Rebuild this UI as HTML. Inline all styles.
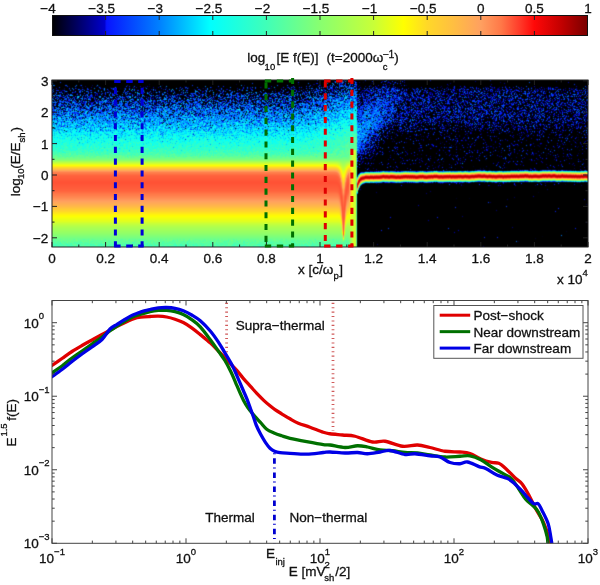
<!DOCTYPE html>
<html><head><meta charset="utf-8"><style>
html,body{margin:0;padding:0;background:#fff;}
body{width:600px;height:585px;position:relative;overflow:hidden;font-family:"Liberation Sans",sans-serif;}
#cb{position:absolute;left:52px;top:15.5px;width:536px;height:20px;background:linear-gradient(to right,#000000 0.00%,#0000cc 9.80%,#0814ff 10.20%,#0080ff 20.00%,#00ffff 29.40%,#40ffb8 40.00%,#88ff70 50.00%,#c8ff38 60.00%,#ffff00 65.60%,#ffd828 70.00%,#ffc040 74.60%,#ffa060 80.00%,#ff7848 83.80%,#ff3828 87.40%,#ff0808 90.00%,#c00000 95.20%,#780000 100.00%);}
#hm{position:absolute;left:52px;top:80px;width:536px;height:167px;background:linear-gradient(to bottom,#000 0px,#000 6.5px,#000734 8.5px,#01094c 10.5px,#010e53 14.5px,#011159 16.5px,#01105d 20.5px,#000e54 26.5px,#010f5d 30.5px,#011160 36.5px,#010d4f 40.5px,#00083f 44.5px,#000535 48.5px,#00021d 52.5px,#000114 56.5px,#000215 66.5px,#00010d 76.5px,#000008 88.5px,#084fb1 90.5px,#a9f55c 92.5px,#fa6432 94.5px,#d80605 96.5px,#fb963e 98.5px,#76f286 100.5px,#002154 102.5px,#00010b 104.5px,#000 106.5px,#000 167px) 305.5px 0/230.5px 167px no-repeat,linear-gradient(to bottom,#000 0px,#000001 3.5px,#000411 6.5px,#000b2d 9.5px,#001241 12.5px,#001e60 15.5px,#012371 18.5px,#012d92 21.5px,#013391 24.5px,#0149a9 27.5px,#0153c5 30.5px,#0160cc 33.5px,#0176dc 36.5px,#018deb 39.5px,#0199f0 42.5px,#02aaf4 45.5px,#04c3f3 48.5px,#05cff6 51.5px,#0ae5f3 54.5px,#10f1ec 57.5px,#16f9e6 60.5px,#1dfcdd 63.5px,#26fed4 66.5px,#2ffeca 69.5px,#3fffb9 72.5px,#53ffa4 75.5px,#71ff86 78.5px,#8eff6b 80.5px,#cfff31 83.5px,#feea16 86.5px,#ffb848 89.5px,#ff814d 92.5px,#ff653e 95.5px,#ff5b3a 98.5px,#ff5336 101.5px,#ff5537 104.5px,#ff5b3a 107.5px,#ff623d 110.5px,#ff7446 113.5px,#ff844f 116.5px,#ff955a 119.5px,#ffa65a 122.5px,#ffb44c 125.5px,#ffc63a 128.5px,#ffd828 131.5px,#fff20e 134.5px,#f5ff0b 137.5px,#e3ff1c 140.5px,#c9ff37 143.5px,#b2ff4b 146.5px,#a3ff59 149.5px,#95ff65 152.5px,#84ff74 155.5px,#71ff86 158.5px,#5fff98 161.5px,#4ff8a3 167px) 0 0/305.5px 167px no-repeat;}
svg{position:absolute;left:0;top:0;}
text{font-family:"Liberation Sans",sans-serif;fill:#111;stroke:#111;stroke-width:0.3px;}
</style></head><body>
<div id="cb"></div>
<canvas id="hm" width="536" height="167"></canvas>
<svg width="600" height="585" viewBox="0 0 600 585">
<text x="48.06" y="12.70" font-size="13.5" text-anchor="middle" >−4</text>
<line x1="105.60" y1="15.50" x2="105.60" y2="20.00" stroke="#222" stroke-width="1" />
<line x1="105.60" y1="31.00" x2="105.60" y2="35.50" stroke="#222" stroke-width="1" />
<text x="101.66" y="12.70" font-size="13.5" text-anchor="middle" >−3.5</text>
<line x1="159.20" y1="15.50" x2="159.20" y2="20.00" stroke="#222" stroke-width="1" />
<line x1="159.20" y1="31.00" x2="159.20" y2="35.50" stroke="#222" stroke-width="1" />
<text x="155.26" y="12.70" font-size="13.5" text-anchor="middle" >−3</text>
<line x1="212.80" y1="15.50" x2="212.80" y2="20.00" stroke="#222" stroke-width="1" />
<line x1="212.80" y1="31.00" x2="212.80" y2="35.50" stroke="#222" stroke-width="1" />
<text x="208.86" y="12.70" font-size="13.5" text-anchor="middle" >−2.5</text>
<line x1="266.40" y1="15.50" x2="266.40" y2="20.00" stroke="#222" stroke-width="1" />
<line x1="266.40" y1="31.00" x2="266.40" y2="35.50" stroke="#222" stroke-width="1" />
<text x="262.46" y="12.70" font-size="13.5" text-anchor="middle" >−2</text>
<line x1="320.00" y1="15.50" x2="320.00" y2="20.00" stroke="#222" stroke-width="1" />
<line x1="320.00" y1="31.00" x2="320.00" y2="35.50" stroke="#222" stroke-width="1" />
<text x="316.06" y="12.70" font-size="13.5" text-anchor="middle" >−1.5</text>
<line x1="373.60" y1="15.50" x2="373.60" y2="20.00" stroke="#222" stroke-width="1" />
<line x1="373.60" y1="31.00" x2="373.60" y2="35.50" stroke="#222" stroke-width="1" />
<text x="369.66" y="12.70" font-size="13.5" text-anchor="middle" >−1</text>
<line x1="427.20" y1="15.50" x2="427.20" y2="20.00" stroke="#222" stroke-width="1" />
<line x1="427.20" y1="31.00" x2="427.20" y2="35.50" stroke="#222" stroke-width="1" />
<text x="423.26" y="12.70" font-size="13.5" text-anchor="middle" >−0.5</text>
<line x1="480.80" y1="15.50" x2="480.80" y2="20.00" stroke="#222" stroke-width="1" />
<line x1="480.80" y1="31.00" x2="480.80" y2="35.50" stroke="#222" stroke-width="1" />
<text x="480.80" y="12.70" font-size="13.5" text-anchor="middle" >0</text>
<line x1="534.40" y1="15.50" x2="534.40" y2="20.00" stroke="#222" stroke-width="1" />
<line x1="534.40" y1="31.00" x2="534.40" y2="35.50" stroke="#222" stroke-width="1" />
<text x="534.40" y="12.70" font-size="13.5" text-anchor="middle" >0.5</text>
<text x="588.00" y="12.70" font-size="13.5" text-anchor="middle" >1</text>
<rect x="52.5" y="15.5" width="535" height="20.0" fill="none" stroke="#111" stroke-width="1"/>
<text x="247.20" y="62.30" font-size="13.5" text-anchor="start" >log</text>
<text x="264.60" y="70.20" font-size="9.5" text-anchor="start" >10</text>
<text x="276.60" y="62.30" font-size="13.5" text-anchor="start" >[E f(E)]</text>
<text x="326.60" y="62.30" font-size="13.5" text-anchor="start" >(t=2000ω</text>
<text x="382.40" y="57.80" font-size="10.5" text-anchor="start" >−1</text>
<text x="382.80" y="70.20" font-size="9.5" text-anchor="start" >c</text>
<text x="394.30" y="62.30" font-size="13.5" text-anchor="start" >)</text>
<line x1="52.00" y1="237.80" x2="57.00" y2="237.80" stroke="#222" stroke-width="1" />
<line x1="588.00" y1="237.80" x2="583.00" y2="237.80" stroke="#222" stroke-width="1" />
<text x="48.40" y="242.70" font-size="13.5" text-anchor="end" >−2</text>
<line x1="52.00" y1="222.10" x2="54.50" y2="222.10" stroke="#222" stroke-width="1" />
<line x1="588.00" y1="222.10" x2="585.50" y2="222.10" stroke="#222" stroke-width="1" />
<line x1="52.00" y1="206.40" x2="57.00" y2="206.40" stroke="#222" stroke-width="1" />
<line x1="588.00" y1="206.40" x2="583.00" y2="206.40" stroke="#222" stroke-width="1" />
<text x="48.40" y="211.30" font-size="13.5" text-anchor="end" >−1</text>
<line x1="52.00" y1="190.70" x2="54.50" y2="190.70" stroke="#222" stroke-width="1" />
<line x1="588.00" y1="190.70" x2="585.50" y2="190.70" stroke="#222" stroke-width="1" />
<line x1="52.00" y1="175.00" x2="57.00" y2="175.00" stroke="#222" stroke-width="1" />
<line x1="588.00" y1="175.00" x2="583.00" y2="175.00" stroke="#222" stroke-width="1" />
<text x="48.60" y="179.90" font-size="13.5" text-anchor="end" >0</text>
<line x1="52.00" y1="159.30" x2="54.50" y2="159.30" stroke="#222" stroke-width="1" />
<line x1="588.00" y1="159.30" x2="585.50" y2="159.30" stroke="#222" stroke-width="1" />
<line x1="52.00" y1="143.60" x2="57.00" y2="143.60" stroke="#222" stroke-width="1" />
<line x1="588.00" y1="143.60" x2="583.00" y2="143.60" stroke="#222" stroke-width="1" />
<text x="48.60" y="148.50" font-size="13.5" text-anchor="end" >1</text>
<line x1="52.00" y1="127.90" x2="54.50" y2="127.90" stroke="#222" stroke-width="1" />
<line x1="588.00" y1="127.90" x2="585.50" y2="127.90" stroke="#222" stroke-width="1" />
<line x1="52.00" y1="112.20" x2="57.00" y2="112.20" stroke="#222" stroke-width="1" />
<line x1="588.00" y1="112.20" x2="583.00" y2="112.20" stroke="#222" stroke-width="1" />
<text x="48.60" y="117.10" font-size="13.5" text-anchor="end" >2</text>
<line x1="52.00" y1="96.50" x2="54.50" y2="96.50" stroke="#222" stroke-width="1" />
<line x1="588.00" y1="96.50" x2="585.50" y2="96.50" stroke="#222" stroke-width="1" />
<line x1="52.00" y1="80.80" x2="57.00" y2="80.80" stroke="#222" stroke-width="1" />
<line x1="588.00" y1="80.80" x2="583.00" y2="80.80" stroke="#222" stroke-width="1" />
<text x="48.60" y="85.70" font-size="13.5" text-anchor="end" >3</text>
<line x1="52.00" y1="247.00" x2="52.00" y2="242.00" stroke="#222" stroke-width="1" />
<line x1="52.00" y1="80.00" x2="52.00" y2="85.00" stroke="#222" stroke-width="1" />
<text x="52.00" y="262.60" font-size="13.5" text-anchor="middle" >0</text>
<line x1="78.80" y1="247.00" x2="78.80" y2="244.50" stroke="#222" stroke-width="1" />
<line x1="78.80" y1="80.00" x2="78.80" y2="82.50" stroke="#222" stroke-width="1" />
<line x1="105.60" y1="247.00" x2="105.60" y2="242.00" stroke="#222" stroke-width="1" />
<line x1="105.60" y1="80.00" x2="105.60" y2="85.00" stroke="#222" stroke-width="1" />
<text x="105.60" y="262.60" font-size="13.5" text-anchor="middle" >0.2</text>
<line x1="132.40" y1="247.00" x2="132.40" y2="244.50" stroke="#222" stroke-width="1" />
<line x1="132.40" y1="80.00" x2="132.40" y2="82.50" stroke="#222" stroke-width="1" />
<line x1="159.20" y1="247.00" x2="159.20" y2="242.00" stroke="#222" stroke-width="1" />
<line x1="159.20" y1="80.00" x2="159.20" y2="85.00" stroke="#222" stroke-width="1" />
<text x="159.20" y="262.60" font-size="13.5" text-anchor="middle" >0.4</text>
<line x1="186.00" y1="247.00" x2="186.00" y2="244.50" stroke="#222" stroke-width="1" />
<line x1="186.00" y1="80.00" x2="186.00" y2="82.50" stroke="#222" stroke-width="1" />
<line x1="212.80" y1="247.00" x2="212.80" y2="242.00" stroke="#222" stroke-width="1" />
<line x1="212.80" y1="80.00" x2="212.80" y2="85.00" stroke="#222" stroke-width="1" />
<text x="212.80" y="262.60" font-size="13.5" text-anchor="middle" >0.6</text>
<line x1="239.60" y1="247.00" x2="239.60" y2="244.50" stroke="#222" stroke-width="1" />
<line x1="239.60" y1="80.00" x2="239.60" y2="82.50" stroke="#222" stroke-width="1" />
<line x1="266.40" y1="247.00" x2="266.40" y2="242.00" stroke="#222" stroke-width="1" />
<line x1="266.40" y1="80.00" x2="266.40" y2="85.00" stroke="#222" stroke-width="1" />
<text x="266.40" y="262.60" font-size="13.5" text-anchor="middle" >0.8</text>
<line x1="293.20" y1="247.00" x2="293.20" y2="244.50" stroke="#222" stroke-width="1" />
<line x1="293.20" y1="80.00" x2="293.20" y2="82.50" stroke="#222" stroke-width="1" />
<line x1="320.00" y1="247.00" x2="320.00" y2="242.00" stroke="#222" stroke-width="1" />
<line x1="320.00" y1="80.00" x2="320.00" y2="85.00" stroke="#222" stroke-width="1" />
<text x="320.00" y="262.60" font-size="13.5" text-anchor="middle" >1</text>
<line x1="346.80" y1="247.00" x2="346.80" y2="244.50" stroke="#222" stroke-width="1" />
<line x1="346.80" y1="80.00" x2="346.80" y2="82.50" stroke="#222" stroke-width="1" />
<line x1="373.60" y1="247.00" x2="373.60" y2="242.00" stroke="#222" stroke-width="1" />
<line x1="373.60" y1="80.00" x2="373.60" y2="85.00" stroke="#222" stroke-width="1" />
<text x="373.60" y="262.60" font-size="13.5" text-anchor="middle" >1.2</text>
<line x1="400.40" y1="247.00" x2="400.40" y2="244.50" stroke="#222" stroke-width="1" />
<line x1="400.40" y1="80.00" x2="400.40" y2="82.50" stroke="#222" stroke-width="1" />
<line x1="427.20" y1="247.00" x2="427.20" y2="242.00" stroke="#222" stroke-width="1" />
<line x1="427.20" y1="80.00" x2="427.20" y2="85.00" stroke="#222" stroke-width="1" />
<text x="427.20" y="262.60" font-size="13.5" text-anchor="middle" >1.4</text>
<line x1="454.00" y1="247.00" x2="454.00" y2="244.50" stroke="#222" stroke-width="1" />
<line x1="454.00" y1="80.00" x2="454.00" y2="82.50" stroke="#222" stroke-width="1" />
<line x1="480.80" y1="247.00" x2="480.80" y2="242.00" stroke="#222" stroke-width="1" />
<line x1="480.80" y1="80.00" x2="480.80" y2="85.00" stroke="#222" stroke-width="1" />
<text x="480.80" y="262.60" font-size="13.5" text-anchor="middle" >1.6</text>
<line x1="507.60" y1="247.00" x2="507.60" y2="244.50" stroke="#222" stroke-width="1" />
<line x1="507.60" y1="80.00" x2="507.60" y2="82.50" stroke="#222" stroke-width="1" />
<line x1="534.40" y1="247.00" x2="534.40" y2="242.00" stroke="#222" stroke-width="1" />
<line x1="534.40" y1="80.00" x2="534.40" y2="85.00" stroke="#222" stroke-width="1" />
<text x="534.40" y="262.60" font-size="13.5" text-anchor="middle" >1.8</text>
<line x1="561.20" y1="247.00" x2="561.20" y2="244.50" stroke="#222" stroke-width="1" />
<line x1="561.20" y1="80.00" x2="561.20" y2="82.50" stroke="#222" stroke-width="1" />
<line x1="588.00" y1="247.00" x2="588.00" y2="242.00" stroke="#222" stroke-width="1" />
<line x1="588.00" y1="80.00" x2="588.00" y2="85.00" stroke="#222" stroke-width="1" />
<text x="588.00" y="262.60" font-size="13.5" text-anchor="middle" >2</text>
<rect x="52" y="80" width="536" height="167" fill="none" stroke="#222" stroke-width="1"/>
<text x="298.00" y="274.00" font-size="13.5" text-anchor="start" >x [c/ω</text>
<text x="333.50" y="278.60" font-size="9.5" text-anchor="start" >p</text>
<text x="339.20" y="274.00" font-size="13.5" text-anchor="start" >]</text>
<text x="557.00" y="284.00" font-size="13.5" text-anchor="start" >x 10</text>
<text x="582.40" y="276.40" font-size="9.5" text-anchor="start" >4</text>
<g transform="translate(19.6,196.2) rotate(-90)">
<text x="0.00" y="0.00" font-size="13.5" text-anchor="start" >log</text>
<text x="17.20" y="4.20" font-size="9.5" text-anchor="start" >10</text>
<text x="27.50" y="0.00" font-size="13.5" text-anchor="start" >(E/E</text>
<text x="53.80" y="5.40" font-size="9.5" text-anchor="start" >sh</text>
<text x="64.60" y="0.00" font-size="13.5" text-anchor="start" >)</text>
</g>
<line x1="114.2" y1="81.4" x2="143.6" y2="81.4" stroke="#0000d8" stroke-width="3" stroke-dasharray="6.4 5.6"/>
<line x1="114.2" y1="245.9" x2="143.6" y2="245.9" stroke="#0000d8" stroke-width="3" stroke-dasharray="6.4 5.6"/>
<line x1="115.4" y1="87.8" x2="115.4" y2="246.9" stroke="#0000d8" stroke-width="3" stroke-dasharray="6.1 5.7"/>
<line x1="142.1" y1="87.8" x2="142.1" y2="246.9" stroke="#0000d8" stroke-width="3" stroke-dasharray="6.1 5.7"/>
<line x1="264.8" y1="80.9" x2="294.1" y2="80.9" stroke="#007000" stroke-width="3" stroke-dasharray="6.4 5.6"/>
<line x1="264.8" y1="245.9" x2="294.1" y2="245.9" stroke="#007000" stroke-width="3" stroke-dasharray="6.4 5.6"/>
<line x1="266.0" y1="82.4" x2="266.0" y2="246.9" stroke="#007000" stroke-width="3" stroke-dasharray="6.1 5.7"/>
<line x1="292.6" y1="78.0" x2="292.6" y2="246.9" stroke="#007000" stroke-width="3" stroke-dasharray="6.1 5.7"/>
<line x1="324.1" y1="80.9" x2="353.4" y2="80.9" stroke="#e00000" stroke-width="3" stroke-dasharray="6.4 5.6"/>
<line x1="324.1" y1="245.9" x2="353.4" y2="245.9" stroke="#e00000" stroke-width="3" stroke-dasharray="6.4 5.6"/>
<line x1="325.3" y1="81.5" x2="325.3" y2="246.9" stroke="#e00000" stroke-width="3" stroke-dasharray="6.1 5.7"/>
<line x1="351.9" y1="78.0" x2="351.9" y2="246.9" stroke="#e00000" stroke-width="3" stroke-dasharray="6.1 5.7"/>
<clipPath id="bc"><rect x="52" y="300.5" width="536" height="242.79999999999995"/></clipPath>
<line x1="226.6" y1="300.5" x2="226.6" y2="352.5" stroke="#d05a5a" stroke-width="2.8" stroke-dasharray="1.1 3.3" stroke-dashoffset="2.1"/>
<line x1="333" y1="300.5" x2="333" y2="431" stroke="#d05a5a" stroke-width="2.8" stroke-dasharray="1.1 3.3" stroke-dashoffset="2.1"/>
<g clip-path="url(#bc)" fill="none" stroke-width="3.3" stroke-linejoin="round" stroke-linecap="round">
<path d="M52.00,365.50 C53.67,364.33 58.67,360.83 62.00,358.50 C65.33,356.17 68.67,353.67 72.00,351.50 C75.33,349.33 78.67,347.42 82.00,345.50 C85.33,343.58 88.67,341.83 92.00,340.00 C95.33,338.17 97.88,336.75 102.00,334.50 C106.12,332.25 112.52,328.67 116.70,326.50 C120.88,324.33 124.23,322.82 127.10,321.50 C129.97,320.18 131.62,319.32 133.90,318.60 C136.18,317.88 138.12,317.55 140.80,317.20 C143.48,316.85 147.08,316.67 150.00,316.50 C152.92,316.33 155.52,316.12 158.30,316.20 C161.08,316.28 163.92,316.50 166.70,317.00 C169.48,317.50 172.23,318.28 175.00,319.20 C177.77,320.12 180.52,321.07 183.30,322.50 C186.08,323.93 188.87,325.78 191.70,327.80 C194.53,329.82 197.17,332.05 200.30,334.60 C203.43,337.15 207.43,340.32 210.50,343.10 C213.57,345.88 216.30,348.88 218.70,351.30 C221.10,353.72 222.85,355.43 224.90,357.60 C226.95,359.77 228.90,362.03 231.00,364.30 C233.10,366.57 235.38,368.77 237.50,371.20 C239.62,373.63 241.53,376.37 243.70,378.90 C245.87,381.43 248.23,383.90 250.50,386.40 C252.77,388.90 255.05,391.53 257.30,393.90 C259.55,396.27 261.88,398.62 264.00,400.60 C266.12,402.58 268.17,404.30 270.00,405.80 C271.83,407.30 273.05,408.27 275.00,409.60 C276.95,410.93 279.20,412.27 281.70,413.80 C284.20,415.33 287.23,417.23 290.00,418.80 C292.77,420.37 294.97,421.80 298.30,423.20 C301.63,424.60 305.83,425.68 310.00,427.20 C314.17,428.72 319.97,431.21 323.30,432.30 C326.63,433.39 326.80,433.30 330.00,433.75 C333.20,434.20 338.33,434.58 342.50,435.00 C346.67,435.42 350.00,435.08 355.00,436.25 C360.00,437.42 367.50,441.17 372.50,442.00 C377.50,442.83 380.00,440.54 385.00,441.25 C390.00,441.96 397.08,445.62 402.50,446.25 C407.92,446.88 412.92,444.79 417.50,445.00 C422.08,445.21 425.42,446.46 430.00,447.50 C434.58,448.54 440.00,450.50 445.00,451.25 C450.00,452.00 455.83,451.62 460.00,452.00 C464.17,452.38 466.53,452.35 470.00,453.50 C473.47,454.65 477.22,457.42 480.80,458.90 C484.38,460.38 488.52,461.67 491.50,462.40 C494.48,463.13 496.30,462.25 498.70,463.30 C501.10,464.35 503.20,466.30 505.90,468.70 C508.60,471.10 512.20,475.15 514.90,477.70 C517.60,480.25 519.72,481.00 522.10,484.00 C524.48,487.00 526.82,491.37 529.20,495.70 C531.58,500.03 534.00,505.52 536.40,510.00 C538.80,514.48 541.50,517.97 543.60,522.60 C545.70,527.23 547.93,533.90 549.00,537.80 C550.07,541.70 549.83,544.63 550.00,546.00" stroke="#e00000"/>
<path d="M52.00,372.80 C53.67,371.67 58.67,368.47 62.00,366.00 C65.33,363.53 68.67,360.50 72.00,358.00 C75.33,355.50 78.67,353.33 82.00,351.00 C85.33,348.67 88.67,346.33 92.00,344.00 C95.33,341.67 98.92,339.25 102.00,337.00 C105.08,334.75 107.20,332.83 110.50,330.50 C113.80,328.17 117.72,325.42 121.80,323.00 C125.88,320.58 130.30,317.88 135.00,316.00 C139.70,314.12 146.12,312.63 150.00,311.70 C153.88,310.77 155.52,310.62 158.30,310.40 C161.08,310.18 163.92,310.18 166.70,310.40 C169.48,310.62 172.23,311.00 175.00,311.70 C177.77,312.40 180.52,313.28 183.30,314.60 C186.08,315.92 188.87,317.57 191.70,319.60 C194.53,321.63 197.17,323.40 200.30,326.80 C203.43,330.20 207.43,335.87 210.50,340.00 C213.57,344.13 216.30,348.18 218.70,351.60 C221.10,355.02 222.85,357.10 224.90,360.50 C226.95,363.90 229.23,368.37 231.00,372.00 C232.77,375.63 234.07,378.98 235.50,382.30 C236.93,385.62 238.23,388.82 239.60,391.90 C240.97,394.98 242.33,398.18 243.70,400.80 C245.07,403.42 246.42,405.57 247.80,407.60 C249.18,409.63 250.52,411.22 252.00,413.00 C253.48,414.78 255.20,416.63 256.70,418.30 C258.20,419.97 259.33,421.18 261.00,423.00 C262.67,424.82 264.53,427.53 266.70,429.20 C268.87,430.87 271.50,431.90 274.00,433.00 C276.50,434.10 279.03,434.92 281.70,435.80 C284.37,436.68 285.83,437.32 290.00,438.30 C294.17,439.28 301.15,440.63 306.70,441.70 C312.25,442.77 319.42,444.15 323.30,444.70 C327.18,445.25 326.38,444.53 330.00,445.00 C333.62,445.47 340.42,447.38 345.00,447.50 C349.58,447.62 353.75,445.83 357.50,445.75 C361.25,445.67 363.75,446.29 367.50,447.00 C371.25,447.71 375.83,449.38 380.00,450.00 C384.17,450.62 388.33,450.33 392.50,450.75 C396.67,451.17 400.83,452.12 405.00,452.50 C409.17,452.88 413.33,452.58 417.50,453.00 C421.67,453.42 425.42,454.33 430.00,455.00 C434.58,455.67 440.00,456.79 445.00,457.00 C450.00,457.21 455.83,456.45 460.00,456.25 C464.17,456.05 466.53,455.23 470.00,455.80 C473.47,456.38 477.22,457.85 480.80,459.70 C484.38,461.55 487.92,464.65 491.50,466.90 C495.08,469.15 499.00,471.25 502.30,473.20 C505.60,475.15 508.60,476.05 511.30,478.60 C514.00,481.15 516.10,485.07 518.50,488.50 C520.90,491.93 523.32,496.37 525.70,499.20 C528.08,502.03 530.72,503.40 532.80,505.50 C534.88,507.60 536.40,508.65 538.20,511.80 C540.00,514.95 542.10,520.20 543.60,524.40 C545.10,528.60 546.47,533.40 547.20,537.00 C547.93,540.60 547.87,544.50 548.00,546.00" stroke="#007000"/>
<path d="M52.00,376.70 C53.67,375.50 58.67,372.03 62.00,369.50 C65.33,366.97 68.67,364.08 72.00,361.50 C75.33,358.92 78.67,356.42 82.00,354.00 C85.33,351.58 88.67,349.42 92.00,347.00 C95.33,344.58 99.00,342.50 102.00,339.50 C105.00,336.50 107.53,331.48 110.00,329.00 C112.47,326.52 114.52,326.07 116.80,324.60 C119.08,323.13 121.42,321.62 123.70,320.20 C125.98,318.78 128.23,317.25 130.50,316.10 C132.77,314.95 135.02,314.17 137.30,313.30 C139.58,312.43 142.08,311.53 144.20,310.90 C146.32,310.27 147.65,310.00 150.00,309.50 C152.35,309.00 155.52,308.23 158.30,307.90 C161.08,307.57 163.92,307.43 166.70,307.50 C169.48,307.57 172.23,307.75 175.00,308.30 C177.77,308.85 180.52,309.68 183.30,310.80 C186.08,311.92 188.87,313.33 191.70,315.00 C194.53,316.67 197.17,318.08 200.30,320.80 C203.43,323.52 207.43,327.67 210.50,331.30 C213.57,334.93 216.30,339.02 218.70,342.60 C221.10,346.18 222.85,349.38 224.90,352.80 C226.95,356.22 229.42,360.23 231.00,363.10 C232.58,365.97 233.08,367.13 234.40,370.00 C235.72,372.87 237.42,376.88 238.90,380.30 C240.38,383.72 241.93,387.32 243.30,390.50 C244.67,393.68 245.85,396.23 247.10,399.40 C248.35,402.57 249.73,406.57 250.80,409.50 C251.87,412.43 252.60,414.42 253.50,417.00 C254.40,419.58 254.98,422.07 256.20,425.00 C257.42,427.93 259.27,431.72 260.80,434.60 C262.33,437.48 263.87,440.03 265.40,442.30 C266.93,444.57 268.47,446.72 270.00,448.20 C271.53,449.68 272.93,450.47 274.60,451.20 C276.27,451.93 277.43,452.25 280.00,452.60 C282.57,452.95 285.55,453.03 290.00,453.30 C294.45,453.57 301.15,454.33 306.70,454.20 C312.25,454.07 319.42,452.87 323.30,452.50 C327.18,452.13 326.38,451.92 330.00,452.00 C333.62,452.08 340.42,452.92 345.00,453.00 C349.58,453.08 353.75,452.38 357.50,452.50 C361.25,452.62 363.75,453.83 367.50,453.75 C371.25,453.67 376.25,452.54 380.00,452.00 C383.75,451.46 385.83,450.08 390.00,450.50 C394.17,450.92 400.83,453.96 405.00,454.50 C409.17,455.04 410.83,453.54 415.00,453.75 C419.17,453.96 425.83,455.21 430.00,455.75 C434.17,456.29 436.67,455.88 440.00,457.00 C443.33,458.12 446.67,461.38 450.00,462.50 C453.33,463.62 457.08,463.83 460.00,463.75 C462.92,463.67 464.33,461.52 467.50,462.00 C470.67,462.48 475.88,465.48 479.00,466.60 C482.12,467.72 483.22,467.30 486.20,468.70 C489.18,470.10 493.32,473.35 496.90,475.00 C500.48,476.65 504.70,477.10 507.70,478.60 C510.70,480.10 512.50,481.90 514.90,484.00 C517.30,486.10 520.00,488.97 522.10,491.20 C524.20,493.43 525.57,495.32 527.50,497.40 C529.43,499.48 531.92,502.65 533.70,503.70 C535.48,504.75 536.85,502.65 538.20,503.70 C539.55,504.75 540.15,506.70 541.80,510.00 C543.45,513.30 546.60,519.00 548.10,523.50 C549.60,528.00 550.12,533.25 550.80,537.00 C551.48,540.75 551.97,544.50 552.20,546.00" stroke="#0000e6"/>
</g>
<line x1="274.4" y1="453.3" x2="274.4" y2="543.3" stroke="#0000d0" stroke-width="2.8" stroke-dasharray="1 4 5.5 3.6"/>
<line x1="52.00" y1="543.30" x2="52.00" y2="538.30" stroke="#444" stroke-width="1" />
<line x1="52.00" y1="300.50" x2="52.00" y2="305.50" stroke="#444" stroke-width="1" />
<line x1="92.34" y1="543.30" x2="92.34" y2="540.60" stroke="#444" stroke-width="1" />
<line x1="92.34" y1="300.50" x2="92.34" y2="303.20" stroke="#444" stroke-width="1" />
<line x1="115.93" y1="543.30" x2="115.93" y2="540.60" stroke="#444" stroke-width="1" />
<line x1="115.93" y1="300.50" x2="115.93" y2="303.20" stroke="#444" stroke-width="1" />
<line x1="132.68" y1="543.30" x2="132.68" y2="540.60" stroke="#444" stroke-width="1" />
<line x1="132.68" y1="300.50" x2="132.68" y2="303.20" stroke="#444" stroke-width="1" />
<line x1="145.66" y1="543.30" x2="145.66" y2="540.60" stroke="#444" stroke-width="1" />
<line x1="145.66" y1="300.50" x2="145.66" y2="303.20" stroke="#444" stroke-width="1" />
<line x1="156.27" y1="543.30" x2="156.27" y2="540.60" stroke="#444" stroke-width="1" />
<line x1="156.27" y1="300.50" x2="156.27" y2="303.20" stroke="#444" stroke-width="1" />
<line x1="165.24" y1="543.30" x2="165.24" y2="540.60" stroke="#444" stroke-width="1" />
<line x1="165.24" y1="300.50" x2="165.24" y2="303.20" stroke="#444" stroke-width="1" />
<line x1="173.01" y1="543.30" x2="173.01" y2="540.60" stroke="#444" stroke-width="1" />
<line x1="173.01" y1="300.50" x2="173.01" y2="303.20" stroke="#444" stroke-width="1" />
<line x1="179.87" y1="543.30" x2="179.87" y2="540.60" stroke="#444" stroke-width="1" />
<line x1="179.87" y1="300.50" x2="179.87" y2="303.20" stroke="#444" stroke-width="1" />
<line x1="186.00" y1="543.30" x2="186.00" y2="538.30" stroke="#444" stroke-width="1" />
<line x1="186.00" y1="300.50" x2="186.00" y2="305.50" stroke="#444" stroke-width="1" />
<line x1="226.34" y1="543.30" x2="226.34" y2="540.60" stroke="#444" stroke-width="1" />
<line x1="226.34" y1="300.50" x2="226.34" y2="303.20" stroke="#444" stroke-width="1" />
<line x1="249.93" y1="543.30" x2="249.93" y2="540.60" stroke="#444" stroke-width="1" />
<line x1="249.93" y1="300.50" x2="249.93" y2="303.20" stroke="#444" stroke-width="1" />
<line x1="266.68" y1="543.30" x2="266.68" y2="540.60" stroke="#444" stroke-width="1" />
<line x1="266.68" y1="300.50" x2="266.68" y2="303.20" stroke="#444" stroke-width="1" />
<line x1="279.66" y1="543.30" x2="279.66" y2="540.60" stroke="#444" stroke-width="1" />
<line x1="279.66" y1="300.50" x2="279.66" y2="303.20" stroke="#444" stroke-width="1" />
<line x1="290.27" y1="543.30" x2="290.27" y2="540.60" stroke="#444" stroke-width="1" />
<line x1="290.27" y1="300.50" x2="290.27" y2="303.20" stroke="#444" stroke-width="1" />
<line x1="299.24" y1="543.30" x2="299.24" y2="540.60" stroke="#444" stroke-width="1" />
<line x1="299.24" y1="300.50" x2="299.24" y2="303.20" stroke="#444" stroke-width="1" />
<line x1="307.01" y1="543.30" x2="307.01" y2="540.60" stroke="#444" stroke-width="1" />
<line x1="307.01" y1="300.50" x2="307.01" y2="303.20" stroke="#444" stroke-width="1" />
<line x1="313.87" y1="543.30" x2="313.87" y2="540.60" stroke="#444" stroke-width="1" />
<line x1="313.87" y1="300.50" x2="313.87" y2="303.20" stroke="#444" stroke-width="1" />
<line x1="320.00" y1="543.30" x2="320.00" y2="538.30" stroke="#444" stroke-width="1" />
<line x1="320.00" y1="300.50" x2="320.00" y2="305.50" stroke="#444" stroke-width="1" />
<line x1="360.34" y1="543.30" x2="360.34" y2="540.60" stroke="#444" stroke-width="1" />
<line x1="360.34" y1="300.50" x2="360.34" y2="303.20" stroke="#444" stroke-width="1" />
<line x1="383.93" y1="543.30" x2="383.93" y2="540.60" stroke="#444" stroke-width="1" />
<line x1="383.93" y1="300.50" x2="383.93" y2="303.20" stroke="#444" stroke-width="1" />
<line x1="400.68" y1="543.30" x2="400.68" y2="540.60" stroke="#444" stroke-width="1" />
<line x1="400.68" y1="300.50" x2="400.68" y2="303.20" stroke="#444" stroke-width="1" />
<line x1="413.66" y1="543.30" x2="413.66" y2="540.60" stroke="#444" stroke-width="1" />
<line x1="413.66" y1="300.50" x2="413.66" y2="303.20" stroke="#444" stroke-width="1" />
<line x1="424.27" y1="543.30" x2="424.27" y2="540.60" stroke="#444" stroke-width="1" />
<line x1="424.27" y1="300.50" x2="424.27" y2="303.20" stroke="#444" stroke-width="1" />
<line x1="433.24" y1="543.30" x2="433.24" y2="540.60" stroke="#444" stroke-width="1" />
<line x1="433.24" y1="300.50" x2="433.24" y2="303.20" stroke="#444" stroke-width="1" />
<line x1="441.01" y1="543.30" x2="441.01" y2="540.60" stroke="#444" stroke-width="1" />
<line x1="441.01" y1="300.50" x2="441.01" y2="303.20" stroke="#444" stroke-width="1" />
<line x1="447.87" y1="543.30" x2="447.87" y2="540.60" stroke="#444" stroke-width="1" />
<line x1="447.87" y1="300.50" x2="447.87" y2="303.20" stroke="#444" stroke-width="1" />
<line x1="454.00" y1="543.30" x2="454.00" y2="538.30" stroke="#444" stroke-width="1" />
<line x1="454.00" y1="300.50" x2="454.00" y2="305.50" stroke="#444" stroke-width="1" />
<line x1="494.34" y1="543.30" x2="494.34" y2="540.60" stroke="#444" stroke-width="1" />
<line x1="494.34" y1="300.50" x2="494.34" y2="303.20" stroke="#444" stroke-width="1" />
<line x1="517.93" y1="543.30" x2="517.93" y2="540.60" stroke="#444" stroke-width="1" />
<line x1="517.93" y1="300.50" x2="517.93" y2="303.20" stroke="#444" stroke-width="1" />
<line x1="534.68" y1="543.30" x2="534.68" y2="540.60" stroke="#444" stroke-width="1" />
<line x1="534.68" y1="300.50" x2="534.68" y2="303.20" stroke="#444" stroke-width="1" />
<line x1="547.66" y1="543.30" x2="547.66" y2="540.60" stroke="#444" stroke-width="1" />
<line x1="547.66" y1="300.50" x2="547.66" y2="303.20" stroke="#444" stroke-width="1" />
<line x1="558.27" y1="543.30" x2="558.27" y2="540.60" stroke="#444" stroke-width="1" />
<line x1="558.27" y1="300.50" x2="558.27" y2="303.20" stroke="#444" stroke-width="1" />
<line x1="567.24" y1="543.30" x2="567.24" y2="540.60" stroke="#444" stroke-width="1" />
<line x1="567.24" y1="300.50" x2="567.24" y2="303.20" stroke="#444" stroke-width="1" />
<line x1="575.01" y1="543.30" x2="575.01" y2="540.60" stroke="#444" stroke-width="1" />
<line x1="575.01" y1="300.50" x2="575.01" y2="303.20" stroke="#444" stroke-width="1" />
<line x1="581.87" y1="543.30" x2="581.87" y2="540.60" stroke="#444" stroke-width="1" />
<line x1="581.87" y1="300.50" x2="581.87" y2="303.20" stroke="#444" stroke-width="1" />
<line x1="588.00" y1="543.30" x2="588.00" y2="538.30" stroke="#444" stroke-width="1" />
<line x1="588.00" y1="300.50" x2="588.00" y2="305.50" stroke="#444" stroke-width="1" />
<line x1="52.00" y1="543.29" x2="57.00" y2="543.29" stroke="#444" stroke-width="1" />
<line x1="588.00" y1="543.29" x2="583.00" y2="543.29" stroke="#444" stroke-width="1" />
<line x1="52.00" y1="521.16" x2="54.70" y2="521.16" stroke="#444" stroke-width="1" />
<line x1="588.00" y1="521.16" x2="585.30" y2="521.16" stroke="#444" stroke-width="1" />
<line x1="52.00" y1="508.21" x2="54.70" y2="508.21" stroke="#444" stroke-width="1" />
<line x1="588.00" y1="508.21" x2="585.30" y2="508.21" stroke="#444" stroke-width="1" />
<line x1="52.00" y1="499.02" x2="54.70" y2="499.02" stroke="#444" stroke-width="1" />
<line x1="588.00" y1="499.02" x2="585.30" y2="499.02" stroke="#444" stroke-width="1" />
<line x1="52.00" y1="491.89" x2="54.70" y2="491.89" stroke="#444" stroke-width="1" />
<line x1="588.00" y1="491.89" x2="585.30" y2="491.89" stroke="#444" stroke-width="1" />
<line x1="52.00" y1="486.07" x2="54.70" y2="486.07" stroke="#444" stroke-width="1" />
<line x1="588.00" y1="486.07" x2="585.30" y2="486.07" stroke="#444" stroke-width="1" />
<line x1="52.00" y1="481.15" x2="54.70" y2="481.15" stroke="#444" stroke-width="1" />
<line x1="588.00" y1="481.15" x2="585.30" y2="481.15" stroke="#444" stroke-width="1" />
<line x1="52.00" y1="476.89" x2="54.70" y2="476.89" stroke="#444" stroke-width="1" />
<line x1="588.00" y1="476.89" x2="585.30" y2="476.89" stroke="#444" stroke-width="1" />
<line x1="52.00" y1="473.12" x2="54.70" y2="473.12" stroke="#444" stroke-width="1" />
<line x1="588.00" y1="473.12" x2="585.30" y2="473.12" stroke="#444" stroke-width="1" />
<line x1="52.00" y1="469.76" x2="57.00" y2="469.76" stroke="#444" stroke-width="1" />
<line x1="588.00" y1="469.76" x2="583.00" y2="469.76" stroke="#444" stroke-width="1" />
<line x1="52.00" y1="447.63" x2="54.70" y2="447.63" stroke="#444" stroke-width="1" />
<line x1="588.00" y1="447.63" x2="585.30" y2="447.63" stroke="#444" stroke-width="1" />
<line x1="52.00" y1="434.68" x2="54.70" y2="434.68" stroke="#444" stroke-width="1" />
<line x1="588.00" y1="434.68" x2="585.30" y2="434.68" stroke="#444" stroke-width="1" />
<line x1="52.00" y1="425.49" x2="54.70" y2="425.49" stroke="#444" stroke-width="1" />
<line x1="588.00" y1="425.49" x2="585.30" y2="425.49" stroke="#444" stroke-width="1" />
<line x1="52.00" y1="418.36" x2="54.70" y2="418.36" stroke="#444" stroke-width="1" />
<line x1="588.00" y1="418.36" x2="585.30" y2="418.36" stroke="#444" stroke-width="1" />
<line x1="52.00" y1="412.54" x2="54.70" y2="412.54" stroke="#444" stroke-width="1" />
<line x1="588.00" y1="412.54" x2="585.30" y2="412.54" stroke="#444" stroke-width="1" />
<line x1="52.00" y1="407.62" x2="54.70" y2="407.62" stroke="#444" stroke-width="1" />
<line x1="588.00" y1="407.62" x2="585.30" y2="407.62" stroke="#444" stroke-width="1" />
<line x1="52.00" y1="403.36" x2="54.70" y2="403.36" stroke="#444" stroke-width="1" />
<line x1="588.00" y1="403.36" x2="585.30" y2="403.36" stroke="#444" stroke-width="1" />
<line x1="52.00" y1="399.59" x2="54.70" y2="399.59" stroke="#444" stroke-width="1" />
<line x1="588.00" y1="399.59" x2="585.30" y2="399.59" stroke="#444" stroke-width="1" />
<line x1="52.00" y1="396.23" x2="57.00" y2="396.23" stroke="#444" stroke-width="1" />
<line x1="588.00" y1="396.23" x2="583.00" y2="396.23" stroke="#444" stroke-width="1" />
<line x1="52.00" y1="374.10" x2="54.70" y2="374.10" stroke="#444" stroke-width="1" />
<line x1="588.00" y1="374.10" x2="585.30" y2="374.10" stroke="#444" stroke-width="1" />
<line x1="52.00" y1="361.15" x2="54.70" y2="361.15" stroke="#444" stroke-width="1" />
<line x1="588.00" y1="361.15" x2="585.30" y2="361.15" stroke="#444" stroke-width="1" />
<line x1="52.00" y1="351.96" x2="54.70" y2="351.96" stroke="#444" stroke-width="1" />
<line x1="588.00" y1="351.96" x2="585.30" y2="351.96" stroke="#444" stroke-width="1" />
<line x1="52.00" y1="344.83" x2="54.70" y2="344.83" stroke="#444" stroke-width="1" />
<line x1="588.00" y1="344.83" x2="585.30" y2="344.83" stroke="#444" stroke-width="1" />
<line x1="52.00" y1="339.01" x2="54.70" y2="339.01" stroke="#444" stroke-width="1" />
<line x1="588.00" y1="339.01" x2="585.30" y2="339.01" stroke="#444" stroke-width="1" />
<line x1="52.00" y1="334.09" x2="54.70" y2="334.09" stroke="#444" stroke-width="1" />
<line x1="588.00" y1="334.09" x2="585.30" y2="334.09" stroke="#444" stroke-width="1" />
<line x1="52.00" y1="329.83" x2="54.70" y2="329.83" stroke="#444" stroke-width="1" />
<line x1="588.00" y1="329.83" x2="585.30" y2="329.83" stroke="#444" stroke-width="1" />
<line x1="52.00" y1="326.06" x2="54.70" y2="326.06" stroke="#444" stroke-width="1" />
<line x1="588.00" y1="326.06" x2="585.30" y2="326.06" stroke="#444" stroke-width="1" />
<line x1="52.00" y1="322.70" x2="57.00" y2="322.70" stroke="#444" stroke-width="1" />
<line x1="588.00" y1="322.70" x2="583.00" y2="322.70" stroke="#444" stroke-width="1" />
<line x1="52.00" y1="300.57" x2="54.70" y2="300.57" stroke="#444" stroke-width="1" />
<line x1="588.00" y1="300.57" x2="585.30" y2="300.57" stroke="#444" stroke-width="1" />
<rect x="52" y="300.5" width="536" height="242.79999999999995" fill="none" stroke="#444" stroke-width="1"/>
<text x="23.70" y="548.49" font-size="13.5" text-anchor="start" >10</text>
<text x="38.80" y="539.99" font-size="9.5" text-anchor="start" >−3</text>
<text x="23.70" y="474.96" font-size="13.5" text-anchor="start" >10</text>
<text x="38.80" y="466.46" font-size="9.5" text-anchor="start" >−2</text>
<text x="23.70" y="401.43" font-size="13.5" text-anchor="start" >10</text>
<text x="38.80" y="392.93" font-size="9.5" text-anchor="start" >−1</text>
<text x="23.70" y="327.90" font-size="13.5" text-anchor="start" >10</text>
<text x="38.80" y="319.40" font-size="9.5" text-anchor="start" >0</text>
<text x="39.10" y="563.30" font-size="13.5" text-anchor="start" >10</text>
<text x="54.10" y="555.00" font-size="9.5" text-anchor="start" >−1</text>
<text x="175.85" y="563.30" font-size="13.5" text-anchor="start" >10</text>
<text x="190.85" y="555.00" font-size="9.5" text-anchor="start" >0</text>
<text x="309.85" y="563.30" font-size="13.5" text-anchor="start" >10</text>
<text x="324.85" y="555.00" font-size="9.5" text-anchor="start" >1</text>
<text x="443.85" y="563.30" font-size="13.5" text-anchor="start" >10</text>
<text x="458.85" y="555.00" font-size="9.5" text-anchor="start" >2</text>
<text x="577.85" y="563.30" font-size="13.5" text-anchor="start" >10</text>
<text x="592.85" y="555.00" font-size="9.5" text-anchor="start" >3</text>
<text x="266.00" y="557.50" font-size="13.5" text-anchor="start" >E</text>
<text x="275.40" y="564.50" font-size="9.5" text-anchor="start" >inj</text>
<text x="288.80" y="575.80" font-size="13.5" text-anchor="start" >E [mV</text>
<text x="324.50" y="567.80" font-size="9.5" text-anchor="start" >2</text>
<text x="324.30" y="581.00" font-size="9.5" text-anchor="start" >sh</text>
<text x="335.30" y="575.80" font-size="13.5" text-anchor="start" >/2]</text>
<g transform="translate(15.9,446.6) rotate(-90)">
<text x="0.00" y="0.00" font-size="13.5" text-anchor="start" >E</text>
<text x="10.00" y="-8.60" font-size="9.5" text-anchor="start" >1.5</text>
<text x="25.80" y="0.00" font-size="13.5" text-anchor="start" >f(E)</text>
</g>
<text x="235.80" y="330.00" font-size="13.5" text-anchor="start" >Supra−thermal</text>
<text x="205.30" y="522.40" font-size="13.5" text-anchor="start" >Thermal</text>
<text x="289.60" y="522.40" font-size="13.5" text-anchor="start" >Non−thermal</text>
<rect x="433.8" y="305.5" width="149.2" height="52.8" fill="#fff" stroke="#555" stroke-width="1"/>
<line x1="439.70" y1="315.20" x2="470.20" y2="315.20" stroke="#e00000" stroke-width="3" />
<text x="473.60" y="320.10" font-size="13.5" text-anchor="start" >Post−shock</text>
<line x1="439.70" y1="331.65" x2="470.20" y2="331.65" stroke="#007000" stroke-width="3" />
<text x="473.60" y="336.55" font-size="13.5" text-anchor="start" >Near downstream</text>
<line x1="439.70" y1="348.10" x2="470.20" y2="348.10" stroke="#0000e6" stroke-width="3" />
<text x="473.60" y="353.00" font-size="13.5" text-anchor="start" >Far downstream</text>
</svg>
<script>
(function(){
var stops=[[-4.0, "#000000"], [-3.51, "#0000cc"], [-3.49, "#0814ff"], [-3.0, "#0080ff"], [-2.53, "#00ffff"], [-2.0, "#40ffb8"], [-1.5, "#88ff70"], [-1.0, "#c8ff38"], [-0.72, "#ffff00"], [-0.5, "#ffd828"], [-0.27, "#ffc040"], [0.0, "#ffa060"], [0.19, "#ff7848"], [0.37, "#ff3828"], [0.5, "#ff0808"], [0.76, "#c00000"], [1.0, "#780000"]];
var S=stops.map(function(s){var c=s[1];return [s[0],parseInt(c.substr(1,2),16),parseInt(c.substr(3,2),16),parseInt(c.substr(5,2),16)];});
function cmap(v){if(v<=S[0][0])return [0,0,0];if(v>=S[S.length-1][0]){var l=S[S.length-1];return [l[1],l[2],l[3]];}
for(var i=0;i<S.length-1;i++){if(v<=S[i+1][0]){var a=S[i],b=S[i+1],t=(v-a[0])/(b[0]-a[0]);return [a[1]+(b[1]-a[1])*t,a[2]+(b[2]-a[2])*t,a[3]+(b[3]-a[3])*t];}}}
var seed=12345;function rnd(){seed=(seed*1103515245+12345)&0x7fffffff;return seed/0x7fffffff;}
function pois(l){if(l>40){var u=rnd(),w=rnd();var z=Math.sqrt(-2*Math.log(u+1e-12))*Math.cos(6.2832*w);return Math.max(0,Math.round(l+Math.sqrt(l)*z));}var L=Math.exp(-l),k=0,p=1;do{k++;p*=rnd();}while(p>L);return k-1;}
function poisU(l,u){var p=Math.exp(-l),c=p,k=0;while(u>c&&k<200){k++;p*=l/k;c+=p;}return k;}
var CY=1.0;var UF=new Float32Array(536*170);for(var q=0;q<UF.length;q++)UF[q]=rnd();
function uf(i,j){return UF[i*170+Math.floor(j/CY)];}
var UR=new Float32Array(536*167);for(var q=0;q<UR.length;q++)UR[q]=rnd();
function hsh(a,b,c){var h=(a*374761393+b*668265263+c*2147483647)|0;h=(h^(h>>>13))*1274126177|0;h=h^(h>>>16);return ((h>>>0)%1000003)/1000003+0.0000005;}
function gam(k,a,b){var s=0;if(k<1){var g=gam(k+1,a,b+7);return g*Math.pow(hsh(a,b,91),1/k);}var d=k-1/3,c=1/Math.sqrt(9*d);for(var t=0;t<20;t++){var u1=hsh(a,b,2*t+1),u2=hsh(a,b,2*t+2);var z=Math.sqrt(-2*Math.log(u1))*Math.cos(6.2832*u2);var vv=1+c*z;if(vv<=0)continue;vv=vv*vv*vv;var u=hsh(a,b,100+t);if(Math.log(u)<0.5*z*z+d-d*vv+d*Math.log(vv))return d*vv;}return k;}
var GK=1.1;
function speck(lam,i,j,gk,v1){gk=gk||GK;v1=v1||V1;var cy=Math.floor(j/CY);var n=poisU(lam,uf(i,j));if(n<=0)return -9;var S=gam(n*gk,i,cy)/gk;return v1+Math.log(S)/Math.LN10;}
function interp(tab,y){if(y<=tab[0][0])return tab[0][1];for(var i=0;i<tab.length-1;i++){if(y<=tab[i+1][0]){var t=(y-tab[i][0])/(tab[i+1][0]-tab[i][0]);return tab[i][1]+(tab[i+1][1]-tab[i][1])*t;}}return tab[tab.length-1][1];}
// mean profile (page y -> log value)
var P=[[80,-7],[84,-5.5],[86,-4.5],[88,-4.1],[91,-3.85],[95,-3.62],[100,-3.43],[105,-3.26],[112,-3.06],[120,-2.86],[128,-2.66],[135,-2.47],[142,-2.3],[150,-2.1],[155,-1.9],[160,-1.55],[162.8,-1.05],[165.4,-0.75],[168.8,-0.3],[172.2,0.15],[175.6,0.25],[182.5,0.3],[191,0.25],[196,0.15],[201.3,0.0],[206.4,-0.2],[211.5,-0.5],[216.7,-0.75],[221.8,-0.9],[227,-1.2],[233.8,-1.45],[240.6,-1.75],[247,-1.95]];
var c=document.getElementById('hm');var ctx=c.getContext('2d');
var W=536,H=167;var img=ctx.createImageData(W,H);var d=img.data;
var R=new Float32Array(W*H*3);
var V1=-3.45; // one count
var SH=357.5; // shock x (page)
// beam wobble
var wob=new Float32Array(W);var acc=0;for(var i=0;i<W;i++){acc=acc*0.85+(rnd()-0.5)*0.5;wob[i]=acc;}
for(var j=0;j<H;j++){
 var py=80+j+0.5;
 for(var i=0;i<W;i++){
  var px=52+i+0.5; var v;
  if(px<SH){
   var yy=py;
   // upper speckle shift near shock
   var s=0; if(px>280&&py<158){var q=(px-280)/(SH-280);s=20*q*q*Math.min(1,(158-py)/20);}
   // V-dip stretch below peak
   if(py>160&&px>328){var ww=Math.max(0.5,3.6-(py-180)*0.05);var G=Math.exp(-Math.pow((px-343.5)/ww,2));if(py>234)G*=Math.max(0,1-(py-234)/8);var g=1-0.66*G;yy=160+(py-160)*g;}
   var m=interp(P,yy+s);
   // pre-shock flattening
   if(px>349&&py>150){var r=Math.min(1,(px-349)/4);var tgt=(px>356)?-1.8:-0.95;m=m*(1-r)+tgt*r;}
   if(m<-1.7){var lam=Math.pow(10,m-V1);v=speck(lam,i,j);}
   else v=m;
  } else {
   var lam;
   if(py<86) lam=0.02; else if(py<91) lam=0.02+0.75*(py-86)/5; else if(py<118) lam=0.77; else if(py<135) lam=0.77-0.6*(py-118)/17; else if(py<170) lam=0.17-0.09*(py-135)/35; else if(py<186) lam=0.07; else lam=0.004;
   // fan plume
   var u=(px-SH)/50;
   if(u<1&&py<168){var yc=135-46*u;var a=5.0*Math.pow(1-u,1.3);lam+=a*Math.exp(-Math.pow((py-yc)/19,2));}
   var nR=poisU(lam,UR[j*W+i]);v=-9;if(nR>0){var SR=gam(nR*2.5,i,j+500)/2.5;v=-3.62+Math.log(SR)/Math.LN10;}
   var dpx=px-SH;var yb=177.0-0.8*(px-360)/228+wob[i]+8*Math.exp(-dpx/2.5);
   var dy=Math.abs(py-yb);var kk=0.19;if(dpx<6){kk=0.19-0.1*(1-dpx/6);}
   var bv=0.82-kk*Math.pow(dy,1.8);if(bv>v)v=bv;
  }
  var col=cmap(v);var o=(j*W+i)*3;R[o]=col[0];R[o+1]=col[1];R[o+2]=col[2];
 }
}
// separable [1,2,1] blur with clamp
function blur(A,horiz){var B=new Float32Array(A.length);for(var j=0;j<H;j++)for(var i=0;i<W;i++){for(var ch=0;ch<3;ch++){var a,b,cc=A[(j*W+i)*3+ch];if(horiz){a=A[(j*W+Math.max(0,i-1))*3+ch];b=A[(j*W+Math.min(W-1,i+1))*3+ch];}else{a=A[(Math.max(0,j-1)*W+i)*3+ch];b=A[(Math.min(H-1,j+1)*W+i)*3+ch];}B[(j*W+i)*3+ch]=(a+KC*cc+b)/(KC+2);}}return B;}
var KC=4;R=blur(blur(R,true),false);
for(var p=0;p<W*H;p++){d[p*4]=R[p*3];d[p*4+1]=R[p*3+1];d[p*4+2]=R[p*3+2];d[p*4+3]=255;}
ctx.putImageData(img,0,0);
})();
</script>
</body></html>
